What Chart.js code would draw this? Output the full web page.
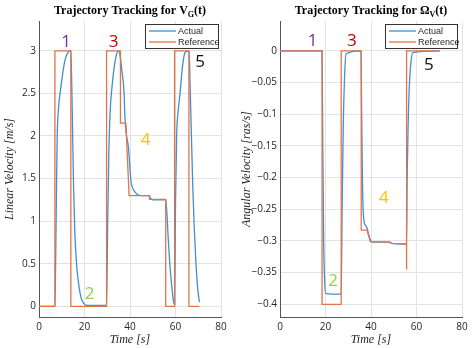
<!DOCTYPE html>
<html>
<head>
<meta charset="utf-8">
<script src="https://cdn.jsdelivr.net/npm/chart.js@4.4.1/dist/chart.umd.min.js"></script>
<style>
  html, body { margin: 0; padding: 0; background: #ffffff; }
  #wrap { position: relative; width: 474px; height: 348px; }
  canvas { position: absolute; top: 0; }
  #left { left: 0; }
  #right { left: 237px; }
</style>
</head>
<body>
<div id="wrap">
  <canvas id="left" width="237" height="348"></canvas>
  <canvas id="right" width="237" height="348"></canvas>
</div>
<script>
// ---- Données ----

// Vitesse linéaire V_G(t)
const vgActualTime = [0, 7, 7.3, 7.6, 8, 8.5, 9.5, 10.5, 11.5, 12.5, 13.6, 14, 14.4, 14.8, 15.2, 15.7, 16.5, 17.5, 18.5, 19.5, 21,
  29.7, 30.2, 30.7, 31.3, 32, 33, 34, 34.8, 35.6, 36.5, 37.4, 37.8, 38.5, 39.3, 40.4, 41, 42, 43, 45, 48, 48.5, 49, 50,
  55.7, 56.2, 56.8, 57.5, 58.3, 59, 59.6, 60, 60.5, 61.2, 62, 63, 64.2, 66, 66.4, 67, 67.6, 68.2, 69, 69.8, 70.5];
const vgActual = [0, 0, 0.5, 1.2, 2.0, 2.3, 2.55, 2.75, 2.9, 2.97, 3.0, 3.0, 2.6, 2.0, 1.4, 0.9, 0.5, 0.25, 0.1, 0.04, 0.01,
  0.01, 1.0, 1.8, 2.3, 2.55, 2.8, 2.95, 3.0, 2.95, 2.75, 2.5, 2.2, 2.0, 1.87, 1.48, 1.4, 1.35, 1.32, 1.3, 1.3, 1.29, 1.27, 1.25,
  1.25, 1.1, 0.8, 0.5, 0.25, 0.08, 0.02, 1.2, 2.0, 2.3, 2.5, 2.8, 2.98, 3.0, 2.6, 2.0, 1.4, 0.95, 0.5, 0.2, 0.05];
const vgRefTime = [0, 7, 7, 14, 14, 29.7, 29.7, 35.8, 35.8, 38.2, 39.6, 48.6, 48.6, 55.7, 55.7, 59.6, 59.6, 65.9, 65.9, 70.5];
const vgReference = [0, 0, 3, 3, 0, 0, 3, 3, 2.15, 2.15, 1.3, 1.3, 1.255, 1.255, 0, 0, 3, 3, 0, 0];
const vgTicks = [0, 0.5, 1, 1.5, 2, 2.5, 3];
const vgTickLabels = ['0', '0.5', '1', '1.5', '2', '2.5', '3'];

// Vitesse angulaire Omega_V(t)
const omActualTime = [0, 18.5, 18.8, 19.2, 19.7, 20.2, 26.9, 27.3, 27.8, 28.3, 29, 35.6, 35.9, 36.3, 36.8, 37.5, 38.3, 39, 39.8, 40.5,
  48, 49, 55.6, 55.9, 56.3, 56.8, 57.5, 58.4, 70.2];
const omActual = [0, 0, -0.15, -0.3, -0.37, -0.383, -0.384, -0.25, -0.12, -0.05, -0.005, 0, -0.1, -0.22, -0.265, -0.275, -0.28, -0.29, -0.299, -0.302,
  -0.302, -0.304, -0.305, -0.2, -0.12, -0.06, -0.02, -0.003, 0];
const omRefTime = [0, 18.5, 18.5, 26.9, 26.9, 35.7, 35.7, 38.2, 39.7, 48.5, 49, 55.6, 55.6, 55.7, 70.2];
const omReference = [0, 0, -0.4, -0.4, 0, 0, -0.283, -0.283, -0.301, -0.302, -0.304, -0.305, -0.345, 0, 0];
const omTicks = [-0.4, -0.35, -0.3, -0.25, -0.2, -0.15, -0.1, -0.05, 0];
const omTickLabels = ['\u22120.4', '\u22120.35', '\u22120.3', '\u22120.25', '\u22120.2', '\u22120.15', '\u22120.1', '\u22120.05', '0'];

const timeTicks = [0, 20, 40, 60, 80];
const seriesLabels = ['Actual', 'Reference'];

// Repères numérotés (couleur, position en données)
const markLabels = ['1', '2', '3', '4', '5'];
const markColors = ['#7030A0', '#92D050', '#C00000', '#FFC000', '#111111'];
const vgMarkTime = [11.9, 22.3, 32.8, 46.9, 70.8];
const vgMarkValue = [3.1, 0.14, 3.1, 1.95, 2.87];
const omMarkTime = [14.3, 23.4, 31.6, 45.6, 65.4];
const omMarkValue = [0.015, -0.363, 0.015, -0.233, -0.022];

const BLUE = '#3f8fd2';
const ORANGE = '#e3744a';
const TEXT = '#262626';
const GRID = '#e3e3e3';

function zip(xs, ys) {
  return xs.map((x, i) => ({ x: x, y: ys[i] }));
}

// Titre avec indice (ex: V_G(t))
const subTitlePlugin = {
  id: 'subTitle',
  afterDraw(chart, args, opts) {
    const ctx = chart.ctx;
    const area = chart.chartArea;
    const big = 'bold 12px "Liberation Serif", serif';
    const small = 'bold 8px "Liberation Serif", serif';
    ctx.save();
    ctx.fillStyle = '#000';
    ctx.textBaseline = 'alphabetic';
    ctx.font = big;
    const w1 = ctx.measureText(opts.pre).width;
    const w3 = ctx.measureText(opts.post).width;
    ctx.font = small;
    const w2 = ctx.measureText(opts.sub).width;
    let x = (area.left + area.right) / 2 - (w1 + w2 + w3) / 2;
    const y = 14;
    ctx.font = big;
    ctx.textAlign = 'left';
    ctx.fillText(opts.pre, x, y);
    x += w1;
    ctx.font = small;
    ctx.fillText(opts.sub, x, y + 2.5);
    x += w2;
    ctx.font = big;
    ctx.fillText(opts.post, x, y);
    ctx.restore();
  }
};

// Légende encadrée dans le coin haut-droit
const boxLegendPlugin = {
  id: 'boxLegend',
  afterDatasetsDraw(chart, args, opts) {
    const ctx = chart.ctx;
    const area = chart.chartArea;
    const w = opts.width, h = 24;
    const x0 = area.right - opts.right - w;
    const y0 = area.top + 3;
    ctx.save();
    ctx.fillStyle = '#fff';
    ctx.fillRect(x0, y0, w, h);
    ctx.strokeStyle = '#333';
    ctx.lineWidth = 1;
    ctx.strokeRect(Math.round(x0) + 0.5, Math.round(y0) + 0.5, w, h);
    ctx.font = '9px "Liberation Sans", Arial, sans-serif';
    ctx.textBaseline = 'middle';
    ctx.fillStyle = TEXT;
    seriesLabels.forEach((label, i) => {
      const ds = chart.data.datasets.find(d => d.label === label);
      const yy = y0 + 7 + i * 11;
      ctx.strokeStyle = ds.borderColor;
      ctx.lineWidth = 1.3;
      ctx.beginPath();
      ctx.moveTo(x0 + 4, yy);
      ctx.lineTo(x0 + 31, yy);
      ctx.stroke();
      ctx.fillText(label, x0 + 33, yy + 0.5);
    });
    ctx.restore();
  }
};

// Numéros colorés placés en coordonnées de données
const markPlugin = {
  id: 'marks',
  afterDatasetsDraw(chart, args, opts) {
    const ctx = chart.ctx;
    const xs = chart.scales.x, ys = chart.scales.y;
    ctx.save();
    ctx.font = '17px "Open Sans", sans-serif';
    ctx.textAlign = 'center';
    ctx.textBaseline = 'middle';
    markLabels.forEach((m, i) => {
      ctx.fillStyle = markColors[i];
      ctx.fillText(m, xs.getPixelForValue(opts.t[i]), ys.getPixelForValue(opts.v[i]));
    });
    ctx.restore();
  }
};

function makeChart(canvasId, cfg) {
  const ctx = document.getElementById(canvasId).getContext('2d');
  return new Chart(ctx, {
    type: 'line',
    data: {
      datasets: [
        {
          label: 'Actual',
          data: zip(cfg.actT, cfg.act),
          borderColor: BLUE,
          borderWidth: 1.3,
          pointRadius: 0,
          cubicInterpolationMode: 'monotone',
          order: 1
        },
        {
          label: 'Reference',
          data: zip(cfg.refT, cfg.ref),
          borderColor: ORANGE,
          borderWidth: 1.3,
          pointRadius: 0,
          tension: 0,
          order: 0
        }
      ]
    },
    options: {
      responsive: false,
      animation: false,
      events: [],
      layout: { padding: { top: 21, right: cfg.padRight, left: 0, bottom: 0 } },
      plugins: {
        legend: { display: false },
        tooltip: { enabled: false },
        subTitle: cfg.title,
        boxLegend: { width: cfg.legendW, right: cfg.legendRight },
        marks: { t: cfg.markT, v: cfg.markV }
      },
      scales: {
        x: {
          type: 'linear',
          min: 0,
          max: 80,
          afterBuildTicks: s => { s.ticks = timeTicks.map(v => ({ value: v })); },
          afterFit: s => { s.height = 31; },
          grid: { color: GRID, drawTicks: false },
          border: { color: '#555', width: 1 },
          ticks: {
            color: TEXT,
            padding: 4,
            maxRotation: 0,
            font: { family: '"Open Sans", sans-serif', size: 10 },
            callback: v => String(v)
          },
          title: {
            display: true,
            text: 'Time [s]',
            color: TEXT,
            padding: { top: 0, bottom: 1 },
            font: { family: '"Liberation Serif", serif', size: 12, style: 'italic' }
          }
        },
        y: {
          type: 'linear',
          min: cfg.yMin,
          max: cfg.yMax,
          afterBuildTicks: s => { s.ticks = cfg.ticks.map(v => ({ value: v })); },
          afterFit: s => { s.width = cfg.yWidth; },
          grid: { color: GRID, drawTicks: false },
          border: { color: '#555', width: 1 },
          ticks: {
            color: TEXT,
            padding: 3,
            font: { family: '"Open Sans", sans-serif', size: 10 },
            callback: (v) => {
              const k = cfg.ticks.findIndex(t => Math.abs(t - v) < 1e-9);
              return k >= 0 ? cfg.tickLabels[k] : '';
            }
          },
          title: {
            display: true,
            text: cfg.yTitle,
            color: TEXT,
            padding: { top: 3, bottom: 0 },
            font: { family: '"Liberation Serif", serif', size: 12, style: 'italic' }
          }
        }
      }
    },
    plugins: [subTitlePlugin, boxLegendPlugin, markPlugin]
  });
}

makeChart('left', {
  actT: vgActualTime, act: vgActual,
  refT: vgRefTime, ref: vgReference,
  yMin: -0.125, yMax: 3.35,
  ticks: vgTicks, tickLabels: vgTickLabels,
  yWidth: 39, padRight: 16,
  yTitle: 'Linear Velocity [m/s]',
  title: { pre: 'Trajectory Tracking for V', sub: 'G', post: '(t)' },
  legendW: 73, legendRight: 3,
  markT: vgMarkTime, markV: vgMarkValue
});

makeChart('right', {
  actT: omActualTime, act: omActual,
  refT: omRefTime, ref: omReference,
  yMin: -0.42, yMax: 0.047,
  ticks: omTicks, tickLabels: omTickLabels,
  yWidth: 43, padRight: 12,
  yTitle: 'Angular Velocity [ras/s]',
  title: { pre: 'Trajectory Tracking for \u03A9', sub: 'V', post: '(t)' },
  legendW: 72, legendRight: 5,
  markT: omMarkTime, markV: omMarkValue
});
</script>
</body>
</html>
